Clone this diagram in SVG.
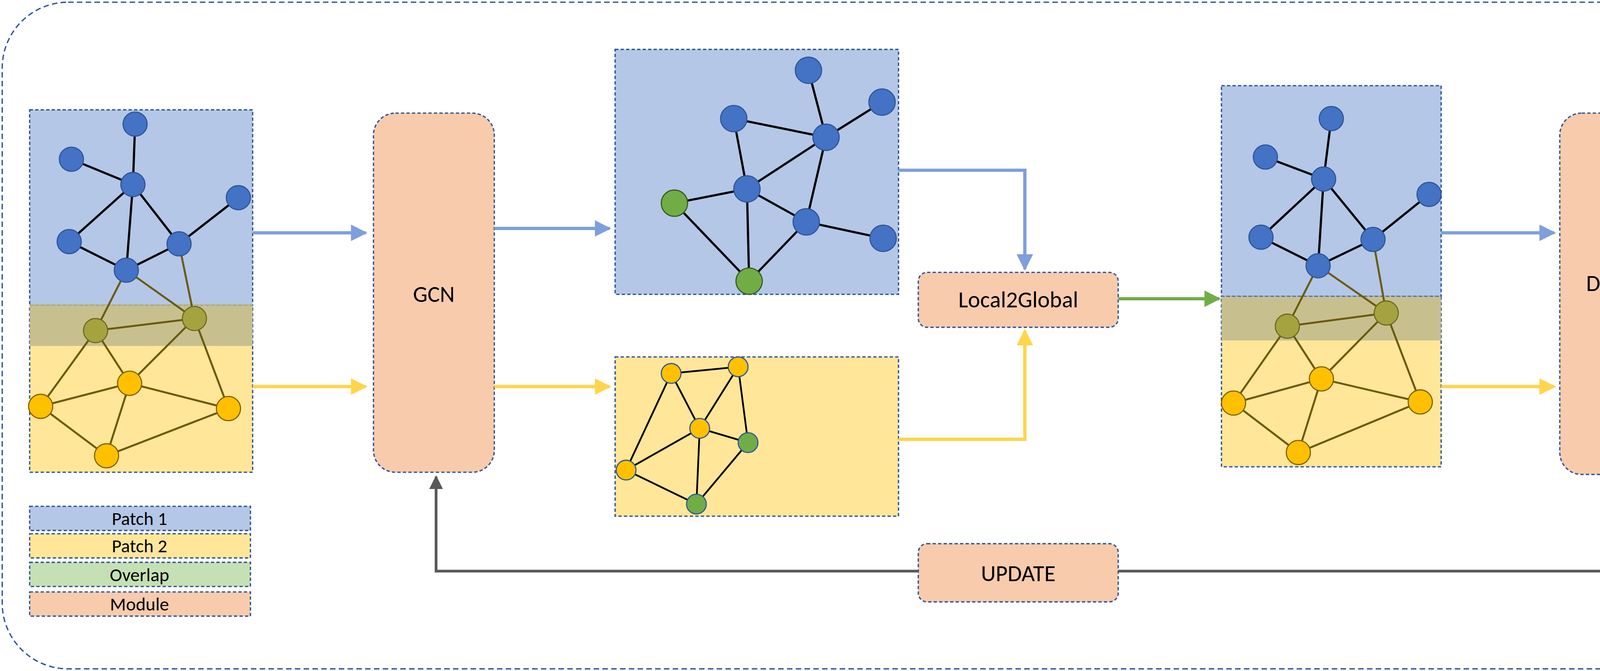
<svg xmlns="http://www.w3.org/2000/svg" width="4409" height="1718" viewBox="0 0 4409 1718">
<style>
.pb{fill:#b4c7e7;stroke:#2f5597;stroke-width:1.2;stroke-dasharray:3 2}
.py{fill:#ffe699;stroke:#2f5597;stroke-width:1.2;stroke-dasharray:3 2}
.po{fill:#bdb88c;opacity:0.85}
.mod{fill:#f8cbad;stroke:#2f5597;stroke-width:1.2;stroke-dasharray:3 2}
.lg{stroke:#2f5597;stroke-width:1.2;stroke-dasharray:3 2}
.nb{fill:#4472c4;stroke:#2f5597;stroke-width:1}
.ny{fill:#ffc000;stroke:#7f6000;stroke-width:1}
.ng{fill:#70ad47;stroke:#38571a;stroke-width:1}
.no{fill:#a5a340;stroke:#6b6a20;stroke-width:1}
.e{stroke:#000;stroke-width:2;fill:none}
.eo{stroke:#6b5a10;stroke-width:1.8;fill:none}
.t{font-family:Calibri,'Liberation Sans',sans-serif;fill:#000;text-anchor:middle}
</style>
<defs>
<marker id="ab" viewBox="0 0 10 10" refX="9" refY="5" markerWidth="5" markerHeight="5" orient="auto"><path d="M0,0L10,5L0,10z" fill="#7f9fdc"/></marker>
<marker id="ay" viewBox="0 0 10 10" refX="9" refY="5" markerWidth="5" markerHeight="5" orient="auto"><path d="M0,0L10,5L0,10z" fill="#ffd54a"/></marker>
<marker id="ag" viewBox="0 0 10 10" refX="9" refY="5" markerWidth="5" markerHeight="5" orient="auto"><path d="M0,0L10,5L0,10z" fill="#70ad47"/></marker>
<marker id="ak" viewBox="0 0 10 10" refX="9" refY="5" markerWidth="5" markerHeight="5" orient="auto"><path d="M0,0L10,5L0,10z" fill="#595959"/></marker>
</defs>
<g transform="scale(2.812)">
<rect x="2" y="2" width="1564" height="607" rx="60" fill="none" stroke="#2f5597" stroke-width="1.2" stroke-dasharray="5 3"/>

<g id="patchL">
<rect class="pb" x="27" y="100" width="203" height="178"/>
<rect class="py" x="27" y="278" width="203" height="152"/>
<rect class="po" x="27" y="277" width="203" height="38"/>
<g class="e">
<line x1="123" y1="113" x2="121" y2="168"/><line x1="65" y1="145" x2="121" y2="168"/><line x1="121" y1="168" x2="63" y2="220"/><line x1="121" y1="168" x2="115" y2="246"/><line x1="121" y1="168" x2="163" y2="222"/><line x1="217" y1="180" x2="163" y2="222"/><line x1="63" y1="220" x2="115" y2="246"/><line x1="163" y1="222" x2="115" y2="246"/>
</g>
<g class="eo">
<line x1="115" y1="246" x2="87" y2="301"/><line x1="115" y1="246" x2="177" y2="290"/><line x1="163" y1="222" x2="177" y2="290"/><line x1="87" y1="301" x2="177" y2="290"/><line x1="87" y1="301" x2="37" y2="370"/><line x1="87" y1="301" x2="118" y2="349"/><line x1="177" y1="290" x2="118" y2="349"/><line x1="177" y1="290" x2="208" y2="372"/><line x1="37" y1="370" x2="118" y2="349"/><line x1="118" y1="349" x2="208" y2="372"/><line x1="37" y1="370" x2="97" y2="415"/><line x1="118" y1="349" x2="97" y2="415"/><line x1="208" y1="372" x2="97" y2="415"/>
</g>
<g class="nb"><circle cx="123" cy="113" r="11"/><circle cx="65" cy="145" r="11"/><circle cx="121" cy="168" r="11"/><circle cx="217" cy="180" r="11"/><circle cx="63" cy="220" r="11"/><circle cx="163" cy="222" r="11"/><circle cx="115" cy="246" r="11"/></g>
<g class="no"><circle cx="87" cy="301" r="11"/><circle cx="177" cy="290" r="11"/></g>
<g class="ny"><circle cx="37" cy="370" r="11"/><circle cx="118" cy="349" r="11"/><circle cx="208" cy="372" r="11"/><circle cx="97" cy="415" r="11"/></g>
</g>

<g id="gcn"><rect class="mod" x="340" y="103" width="110" height="327" rx="20"/><text class="t" x="395" y="275" font-size="21">GCN</text></g>

<g id="patchB">
<rect class="pb" x="560" y="45" width="258" height="223"/>
<g class="e">
<line x1="736" y1="64" x2="752" y2="125"/><line x1="803" y1="93" x2="752" y2="125"/><line x1="668" y1="108" x2="752" y2="125"/><line x1="668" y1="108" x2="680" y2="172"/><line x1="752" y1="125" x2="680" y2="172"/><line x1="752" y1="125" x2="734" y2="202"/><line x1="680" y1="172" x2="614" y2="185"/><line x1="680" y1="172" x2="734" y2="202"/><line x1="680" y1="172" x2="682" y2="256"/><line x1="614" y1="185" x2="682" y2="256"/><line x1="734" y1="202" x2="682" y2="256"/><line x1="734" y1="202" x2="804" y2="217"/>
</g>
<g class="nb"><circle cx="736" cy="64" r="12"/><circle cx="803" cy="93" r="12"/><circle cx="668" cy="108" r="12"/><circle cx="752" cy="125" r="12"/><circle cx="680" cy="172" r="12"/><circle cx="734" cy="202" r="12"/><circle cx="804" cy="217" r="12"/></g>
<g class="ng"><circle cx="614" cy="185" r="12"/><circle cx="682" cy="256" r="12"/></g>
</g>

<g id="patchY">
<rect class="py" x="560" y="325" width="258" height="145"/>
<g class="e" style="stroke-width:1.6">
<line x1="611" y1="340" x2="672" y2="334"/><line x1="611" y1="340" x2="637" y2="390"/><line x1="672" y1="334" x2="637" y2="390"/><line x1="672" y1="334" x2="681" y2="403"/><line x1="637" y1="390" x2="681" y2="403"/><line x1="637" y1="390" x2="570" y2="428"/><line x1="637" y1="390" x2="634" y2="459"/><line x1="611" y1="340" x2="570" y2="428"/><line x1="570" y1="428" x2="634" y2="459"/><line x1="681" y1="403" x2="634" y2="459"/>
</g>
<g class="ny" style="stroke:#2f5597"><circle cx="611" cy="340" r="9"/><circle cx="672" cy="334" r="9"/><circle cx="637" cy="390" r="9"/><circle cx="570" cy="428" r="9"/></g>
<g class="ng" style="stroke:#2f5597"><circle cx="681" cy="403" r="9"/><circle cx="634" cy="459" r="9"/></g>
</g>

<g id="l2g"><rect class="mod" x="836" y="248" width="182" height="50" rx="8"/><text class="t" x="927" y="280" font-size="21">Local2Global</text></g>

<g id="patchR">
<rect class="pb" x="1112" y="78" width="200" height="192"/>
<rect class="py" x="1112" y="270" width="200" height="155"/>
<rect class="po" x="1112" y="270" width="200" height="40"/>
<g class="e">
<line x1="1212" y1="108" x2="1205" y2="163"/><line x1="1152" y1="143" x2="1205" y2="163"/><line x1="1205" y1="163" x2="1148" y2="216"/><line x1="1205" y1="163" x2="1200" y2="242"/><line x1="1205" y1="163" x2="1250" y2="218"/><line x1="1301" y1="177" x2="1250" y2="218"/><line x1="1148" y1="216" x2="1200" y2="242"/><line x1="1250" y1="218" x2="1200" y2="242"/>
</g>
<g class="eo">
<line x1="1200" y1="242" x2="1172" y2="297"/><line x1="1200" y1="242" x2="1262" y2="285"/><line x1="1250" y1="218" x2="1262" y2="285"/><line x1="1172" y1="297" x2="1262" y2="285"/><line x1="1172" y1="297" x2="1123" y2="367"/><line x1="1172" y1="297" x2="1203" y2="345"/><line x1="1262" y1="285" x2="1203" y2="345"/><line x1="1262" y1="285" x2="1293" y2="366"/><line x1="1123" y1="367" x2="1203" y2="345"/><line x1="1203" y1="345" x2="1293" y2="366"/><line x1="1123" y1="367" x2="1182" y2="412"/><line x1="1203" y1="345" x2="1182" y2="412"/><line x1="1293" y1="366" x2="1182" y2="412"/>
</g>
<g class="nb"><circle cx="1212" cy="108" r="11"/><circle cx="1152" cy="143" r="11"/><circle cx="1205" cy="163" r="11"/><circle cx="1301" cy="177" r="11"/><circle cx="1148" cy="216" r="11"/><circle cx="1250" cy="218" r="11"/><circle cx="1200" cy="242" r="11"/></g>
<g class="no"><circle cx="1172" cy="297" r="11"/><circle cx="1262" cy="285" r="11"/></g>
<g class="ny"><circle cx="1123" cy="367" r="11"/><circle cx="1203" cy="345" r="11"/><circle cx="1293" cy="366" r="11"/><circle cx="1182" cy="412" r="11"/></g>
</g>

<g id="decoder"><rect class="mod" x="1420" y="103" width="120" height="329" rx="20"/><text class="t" x="1480" y="265" font-size="21">Decoder</text></g>
<g id="update"><rect class="mod" x="836" y="495" width="182" height="53" rx="8"/><text class="t" x="927" y="529" font-size="21">UPDATE</text></g>

<g id="legend">
<rect class="lg" x="27" y="461" width="201" height="22" fill="#b4c7e7"/><text class="t" x="127" y="478" font-size="17">Patch 1</text>
<rect class="lg" x="27" y="486" width="201" height="22" fill="#ffe699"/><text class="t" x="127" y="503" font-size="17">Patch 2</text>
<rect class="lg" x="27" y="512" width="201" height="22" fill="#c5e0b4"/><text class="t" x="127" y="529" font-size="17">Overlap</text>
<rect class="lg" x="27" y="539" width="201" height="22" fill="#f8cbad"/><text class="t" x="127" y="556" font-size="17">Module</text>
</g>

<g id="connectors" fill="none" stroke-width="3">
<line x1="230" y1="212" x2="333" y2="212" stroke="#7f9fdc" marker-end="url(#ab)"/>
<line x1="230" y1="352" x2="333" y2="352" stroke="#ffd54a" marker-end="url(#ay)"/>
<line x1="450" y1="208" x2="555" y2="208" stroke="#7f9fdc" marker-end="url(#ab)"/>
<line x1="450" y1="352" x2="555" y2="352" stroke="#ffd54a" marker-end="url(#ay)"/>
<polyline points="818,155 933,155 933,245" stroke="#7f9fdc" marker-end="url(#ab)"/>
<polyline points="818,400 933,400 933,301" stroke="#ffd54a" marker-end="url(#ay)"/>
<line x1="1018" y1="272" x2="1110" y2="272" stroke="#70ad47" marker-end="url(#ag)"/>
<line x1="1312" y1="212" x2="1415" y2="212" stroke="#7f9fdc" marker-end="url(#ab)"/>
<line x1="1312" y1="352" x2="1415" y2="352" stroke="#ffd54a" marker-end="url(#ay)"/>
<polyline points="1478,432 1478,520 1018,520" stroke="#595959" stroke-width="2.5"/>
<polyline points="836,520 397,520 397,434" stroke="#595959" stroke-width="2.5" marker-end="url(#ak)"/>
</g>
</g>
</svg>
